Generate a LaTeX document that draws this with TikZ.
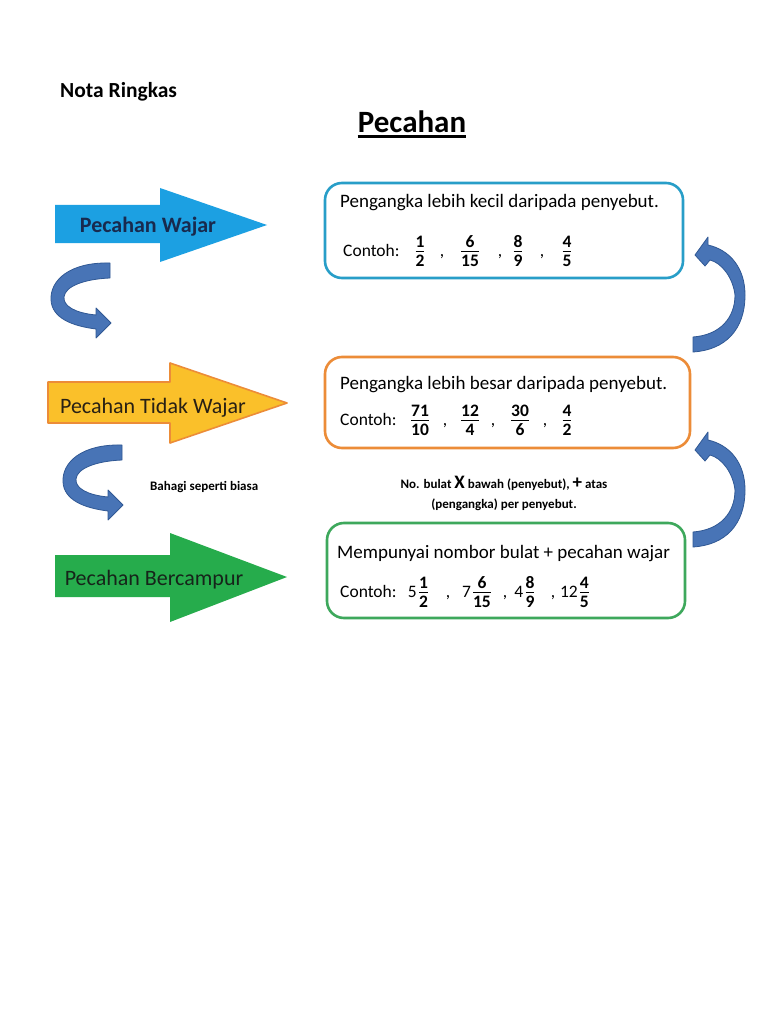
\documentclass[tikz,border=0pt]{standalone}
\usepackage{amsmath}
\usepackage{fontspec}
\setmainfont{Carlito}
\usepackage{tikz}
\usetikzlibrary{positioning}
\definecolor{wajarblue}{RGB}{28,160,226}
\definecolor{wajarline}{RGB}{40,158,200}
\definecolor{tdkfill}{RGB}{250,192,42}
\definecolor{tdkline}{RGB}{236,140,56}
\definecolor{campurfill}{RGB}{38,172,76}
\definecolor{campurline}{RGB}{62,168,92}
\definecolor{bendblue}{RGB}{72,116,182}
\definecolor{bendedge}{RGB}{48,88,148}
\newcommand\pecfrac[2]{$\genfrac{}{}{1.2pt}{1}{\mbox{\bfseries #1\rule[-2pt]{0pt}{2pt}}}{\mbox{\rule{0pt}{13.5pt}\bfseries #2}}$}
\newcommand\boxfont{\fontsize{17.5}{20}\selectfont}
\newcommand\linefont{\fontsize{19}{22}\selectfont}
\tikzset{
  txt/.style={inner sep=0pt, anchor=base west, font=\linefont},
  ctr/.style={inner sep=0pt, anchor=base, font=\boxfont},
  notebox/.style={draw, line width=2.6pt, rounded corners=17pt, inner sep=0pt},
  bendarrow/.style={fill=bendblue, draw=bendedge, line width=0.8pt, line join=round},
  smalltxt/.style={inner sep=0pt, anchor=base, font=\fontsize{13}{15}\selectfont\bfseries}
}

\begin{document}
\begin{tikzpicture}[x=1pt,y=-1pt]
\useasboundingbox (0,0) rectangle (768,1024);
\fill[white] (0,0) rectangle (768,1024);

\node[inner sep=0pt, anchor=base west, font=\fontsize{21.5}{24}\selectfont\bfseries] (nota) at (60,98) {Nota Ringkas};
\node[inner sep=0pt, anchor=base, font=\fontsize{31}{36}\selectfont\bfseries] (title) at (412,133) {Pecahan};
\draw[line width=2.4pt] ([yshift=-3.5pt]title.base west) -- ([yshift=-3.5pt]title.base east);

\fill[wajarblue] (55,205) -- (160,205) -- (160,188) -- (267,225) -- (160,262) -- (160,243) -- (55,243) -- cycle;
\node[inner sep=0pt, anchor=base, font=\fontsize{22}{26}\selectfont\bfseries, text={rgb,255:red,24;green,42;blue,78}] (wajar) at (148,233) {Pecahan Wajar};

\filldraw[fill=tdkfill, draw=tdkline, line width=1.6pt, line join=round] (48,382) -- (170,382) -- (170,363) -- (287,403) -- (170,443) -- (170,423) -- (48,423) -- cycle;
\node[inner sep=0pt, anchor=base, font=\fontsize{22}{26}\selectfont, text={rgb,255:red,40;green,32;blue,20}] (tdkwajar) at (153,413) {Pecahan Tidak Wajar};

\fill[campurfill] (55,555) -- (170,555) -- (170,533) -- (287,577) -- (170,622) -- (170,597) -- (55,597) -- cycle;
\node[inner sep=0pt, anchor=base, font=\fontsize{22}{26}\selectfont, text={rgb,255:red,22;green,36;blue,26}] (campur) at (154,585) {Pecahan Bercampur};

\node[notebox, draw=wajarline, minimum width=358pt, minimum height=95pt] (box1) at (504,230.5) {};
\node[txt] (b1l1) at (340,208) {Pengangka lebih kecil daripada penyebut.};
\node[txt, font=\boxfont] (b1l2) at (343,256) {Contoh:};
\node[ctr] (b1f1) at (420,256) {\pecfrac{1}{2}};
\node[ctr] (b1c1) at (442,256) {,};
\node[ctr] (b1f2) at (470,256) {\pecfrac{6}{15}};
\node[ctr] (b1c2) at (500,256) {,};
\node[ctr] (b1f3) at (518,256) {\pecfrac{8}{9}};
\node[ctr] (b1c3) at (542,256) {,};
\node[ctr] (b1f4) at (567,256) {\pecfrac{4}{5}};

\node[notebox, draw=tdkline, minimum width=365pt, minimum height=91pt] (box2) at (507.5,402.5) {};
\node[txt] (b2l1) at (340,389) {Pengangka lebih besar daripada penyebut.};
\node[txt, font=\boxfont] (b2l2) at (340,425) {Contoh:};
\node[ctr] (b2f1) at (420,425) {\pecfrac{71}{10}};
\node[ctr] (b2c1) at (445,425) {,};
\node[ctr] (b2f2) at (470,425) {\pecfrac{12}{4}};
\node[ctr] (b2c2) at (493,425) {,};
\node[ctr] (b2f3) at (520,425) {\pecfrac{30}{6}};
\node[ctr] (b2c3) at (545,425) {,};
\node[ctr] (b2f4) at (567,425) {\pecfrac{4}{2}};

\node[notebox, draw=campurline, minimum width=358pt, minimum height=95pt] (box3) at (506,570.5) {};
\node[txt] (b3l1) at (337,558) {Mempunyai nombor bulat + pecahan wajar};
\node[txt, font=\boxfont] (b3l2) at (340,597) {Contoh:};
\node[ctr] (b3f1) at (418.5,597) {5\hspace{1pt}\pecfrac{1}{2}};
\node[ctr] (b3c1) at (448,597) {,};
\node[ctr] (b3f2) at (477,597) {7\hspace{1pt}\pecfrac{6}{15}};
\node[ctr] (b3c2) at (505,597) {,};
\node[ctr] (b3f3) at (525,597) {4\hspace{1pt}\pecfrac{8}{9}};
\node[ctr] (b3c3) at (553,597) {,};
\node[ctr] (b3f4) at (575,597) {12\hspace{1pt}\pecfrac{4}{5}};

\node[smalltxt, anchor=base west] (bahagi) at (150,490) {Bahagi seperti biasa};
\node[smalltxt] (bulat1) at (504,488) {No. bulat {\fontsize{19}{19}\selectfont X} bawah (penyebut), {\fontsize{19}{19}\selectfont +} atas};
\node[smalltxt] (bulat2) at (504,508) {(pengangka) per penyebut.};

\filldraw[bendarrow] (110,263) .. controls (70,262) and (50,280) .. (51,300) .. controls (52,318) and (72,326) .. (96,329) -- (96,338) -- (111,323) -- (96,308) -- (96,315) .. controls (75,313) and (63,306) .. (64,297) .. controls (65,286) and (85,279) .. (110,278) -- cycle;
\filldraw[bendarrow] (122,445) .. controls (82,444) and (62,462) .. (63,482) .. controls (64,500) and (84,508) .. (108,511) -- (108,520) -- (123,505) -- (108,490) -- (108,497) .. controls (87,495) and (75,488) .. (76,479) .. controls (77,468) and (97,461) .. (122,460) -- cycle;

\filldraw[bendarrow] (693,352) .. controls (725,350) and (745,330) .. (745,295) .. controls (745,268) and (730,250) .. (708,245) -- (708,237) -- (695,255) -- (705,266) -- (710,260) .. controls (722,263) and (733,278) .. (735,295) .. controls (735,318) and (720,335) .. (693,337) -- cycle;
\filldraw[bendarrow] (693,547) .. controls (725,545) and (745,525) .. (745,490) .. controls (745,463) and (730,445) .. (708,440) -- (708,432) -- (695,450) -- (705,461) -- (710,455) .. controls (722,458) and (733,473) .. (735,490) .. controls (735,513) and (720,530) .. (693,532) -- cycle;
\end{tikzpicture}
\end{document}
